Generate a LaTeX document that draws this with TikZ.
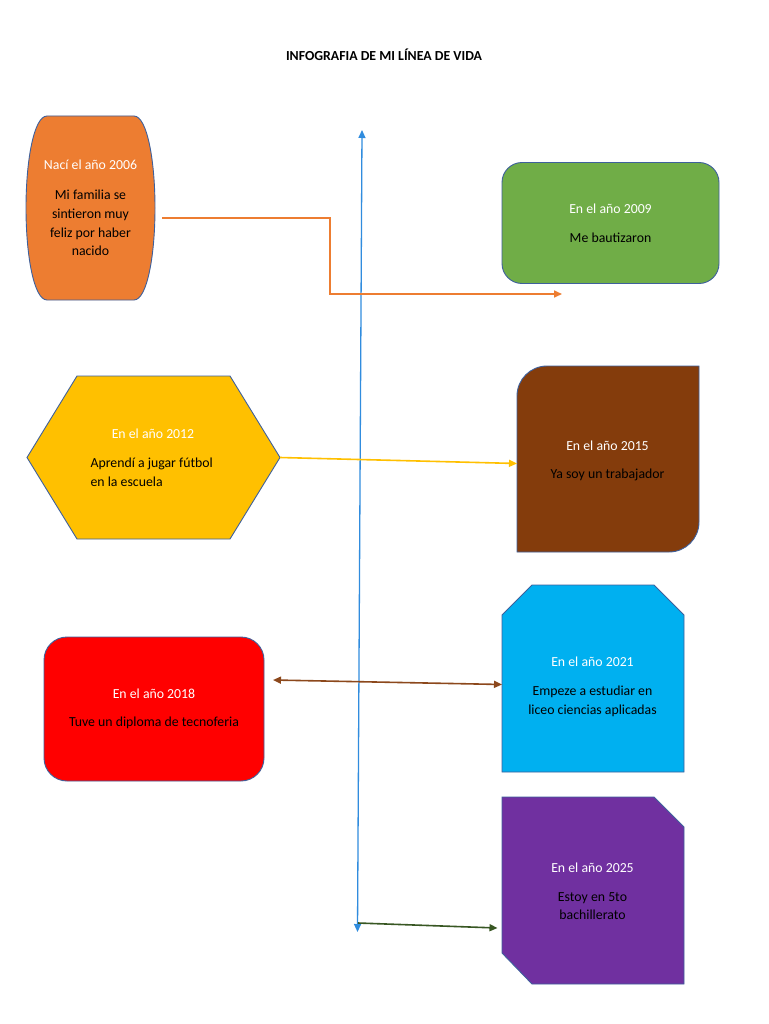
\documentclass[tikz,border=0pt]{standalone}
\usepackage{fontspec}
\setmainfont{Carlito}
\usepackage{xcolor}
\definecolor{vborde}{RGB}{62,96,156}
\definecolor{vnaranja}{RGB}{237,125,49}
\definecolor{vverde}{RGB}{112,173,71}
\definecolor{vamarillo}{RGB}{255,192,0}
\definecolor{vmarron}{RGB}{132,60,12}
\definecolor{vflecha}{RGB}{140,72,28}
\definecolor{vrojo}{RGB}{255,0,0}
\definecolor{vceleste}{RGB}{0,176,240}
\definecolor{vmorado}{RGB}{112,48,160}
\definecolor{vpino}{RGB}{56,87,35}
\definecolor{veje}{RGB}{48,140,222}
\usepackage{tikz}
\usetikzlibrary{arrows.meta, positioning, calc}
\newcommand\vtxt{\fontsize{13.8}{18.7}\selectfont}
\tikzset{
  card/.style={draw=vborde, line width=0.9pt, inner sep=0pt, outer sep=0pt},
  hold/.style={inner sep=0pt, outer sep=0pt},
  yeartxt/.style={text=white, font=\vtxt},
  bodytxt/.style={text=black, font=\vtxt, align=center},
  link/.style={line width=1.6pt, -{Triangle[length=8pt,width=7pt]}},
  twolink/.style={line width=1.6pt, {Triangle[length=8pt,width=7pt]}-{Triangle[length=8pt,width=7pt]}}
}

\begin{document}
\begin{tikzpicture}[x=1pt, y=-1pt]
  \useasboundingbox (0,0) rectangle (768,1024);
  \fill[white] (0,0) rectangle (768,1024);

  \node[font=\vtxt\bfseries] (title) at (384,55) {INFOGRAFIA DE MI LÍNEA DE VIDA};

  % --- Timeline axis ---
  \coordinate (ejeA) at (362,130);
  \coordinate (ejeB) at (357.5,932);
  \draw[veje, twolink, line width=1.3pt] (ejeB) -- (ejeA);

  % --- 2006 ---
  \draw[card, fill=vnaranja] (47,116) -- (134,116) .. controls (147,116) and (155,160) .. (155,208)
    .. controls (155,256) and (147,300) .. (134,300) -- (47,300)
    .. controls (34,300) and (26,256) .. (26,208) .. controls (26,160) and (34,116) .. (47,116) -- cycle;
  \node[hold, minimum width=129pt, minimum height=184pt] (y2006) at (90.5,208) {};
  \node[yeartxt] (t2006) at (90.5,165) {Nací el año 2006};
  \node[bodytxt] (d2006) at (90.5,223) {Mi familia se\\sintieron muy\\feliz por haber\\nacido};

  % --- 2009 ---
  \node[card, fill=vverde, rounded corners=20pt, minimum width=217pt, minimum height=121pt] (y2009) at (610.5,223) {};
  \node[yeartxt] (t2009) at (610.5,209) {En el año 2009};
  \node[bodytxt] (d2009) at (610.5,238) {Me bautizaron};

  % --- 2012 ---
  \draw[card, fill=vamarillo] (27,457.5) -- (77,376) -- (230,376) -- (280,457.5) -- (230,539) -- (77,539) -- cycle;
  \node[hold, minimum width=253pt, minimum height=163pt] (y2012) at (153.5,457.5) {};
  \node[yeartxt] (t2012) at (153,434) {En el año 2012};
  \node[bodytxt, align=left, anchor=west] (d2012) at (87,472.5) {Aprendí a jugar fútbol\\en la escuela};

  % --- 2015 ---
  \draw[card, fill=vmarron] (517,552) -- (517,396) .. controls (517,379.4) and (530.4,366) .. (547,366)
    -- (699,366) -- (699,522) .. controls (699,538.6) and (685.6,552) .. (669,552) -- cycle;
  \node[hold, minimum width=182pt, minimum height=186pt] (y2015) at (608,459) {};
  \node[yeartxt] (t2015) at (607.5,446) {En el año 2015};
  \node[bodytxt] (d2015) at (607.5,475) {Ya soy un trabajador};

  % --- 2018 ---
  \node[card, fill=vrojo, rounded corners=23pt, minimum width=220pt, minimum height=144pt] (y2018) at (154,709) {};
  \node[yeartxt] (t2018) at (154,694) {En el año 2018};
  \node[bodytxt] (d2018) at (154,723) {Tuve un diploma de tecnoferia};

  % --- 2021 ---
  \draw[card, fill=vceleste] (502,615) -- (532,585) -- (654,585) -- (684,615) -- (684,772) -- (502,772) -- cycle;
  \node[hold, minimum width=182pt, minimum height=187pt] (y2021) at (593,678.5) {};
  \node[yeartxt] (t2021) at (592.5,662) {En el año 2021};
  \node[bodytxt] (d2021) at (592.5,701) {Empeze a estudiar en\\liceo ciencias aplicadas};

  % --- 2025 ---
  \draw[card, fill=vmorado] (502,797) -- (654,797) -- (684,827) -- (684,984) -- (532,984) -- (502,953) -- cycle;
  \node[hold, minimum width=182pt, minimum height=187pt] (y2025) at (593,890.5) {};
  \node[yeartxt] (t2025) at (592.5,867.5) {En el año 2025};
  \node[bodytxt] (d2025) at (592.5,906) {Estoy en 5to\\bachillerato};

  % --- Connectors ---
  \coordinate (o2006) at (162,218);
  \coordinate (e2009) at (562,294);
  \draw[vnaranja, link] (o2006) -| (330,256) |- (e2009);

  \draw[vamarillo, link] (y2012.east) -- ([yshift=-4.5pt]y2015.west);

  \coordinate (m2018) at (273,680);
  \draw[vflecha, twolink] (m2018) -- ([yshift=-6pt]y2021.west);

  \coordinate (v0) at (358,923);
  \coordinate (v1) at (497.5,928);
  \draw[vpino, link] (v0) -- (v1);
\end{tikzpicture}
\end{document}
